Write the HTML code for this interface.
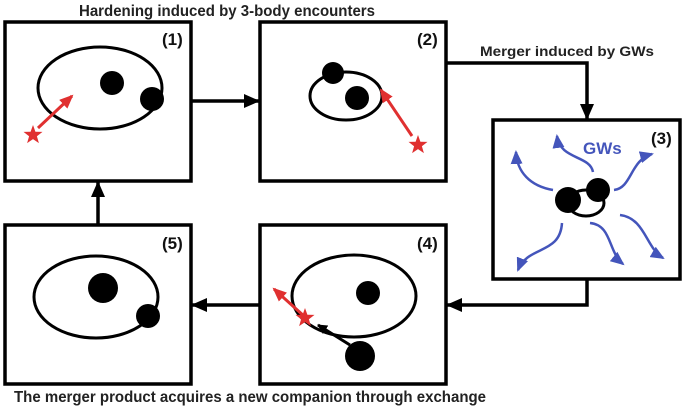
<!DOCTYPE html>
<html><head><style>body{margin:0;background:#fff}svg{display:block}text{font-family:"Liberation Sans",sans-serif;font-weight:bold}</style></head><body>
<svg width="685" height="408" viewBox="0 0 685 408">
<defs>
<marker id="bk" markerWidth="10" markerHeight="10" refX="9" refY="5" orient="auto" markerUnits="userSpaceOnUse"><path d="M0,0 L10,5 L0,10 z" fill="#000"/></marker>
<marker id="bk2" markerWidth="16" markerHeight="14" refX="15" refY="7" orient="auto" markerUnits="userSpaceOnUse"><path d="M0,0 L16,7 L0,14 z" fill="#000"/></marker>
<marker id="rd" markerWidth="14" markerHeight="12" refX="12" refY="6" orient="auto" markerUnits="userSpaceOnUse"><path d="M0,0 L14,6 L0,12 z" fill="#e03030"/></marker>
<marker id="bl" markerWidth="14" markerHeight="12" refX="12" refY="6" orient="auto" markerUnits="userSpaceOnUse"><path d="M0,0 L14,6 L0,12 z" fill="#4455bb"/></marker>
<polygon id="star" points="0,-10 2.4,-3.3 9.5,-3.1 3.9,1.3 5.9,8.1 0,4.1 -5.9,8.1 -3.9,1.3 -9.5,-3.1 -2.4,-3.3" fill="#e03030"/>
</defs>
<text x="227" y="16" font-size="15.5" text-anchor="middle" fill="#222" textLength="296" lengthAdjust="spacingAndGlyphs">Hardening induced by 3-body encounters</text>
<text x="567" y="56" font-size="14" text-anchor="middle" fill="#222" textLength="174" lengthAdjust="spacingAndGlyphs">Merger induced by GWs</text>
<text x="250" y="402" font-size="15.5" text-anchor="middle" fill="#222" textLength="472" lengthAdjust="spacingAndGlyphs">The merger product acquires a new companion through exchange</text>
<g fill="none" stroke="#000" stroke-width="3.5">
<rect x="5" y="22" width="186" height="159"/>
<rect x="260" y="22" width="186" height="159"/>
<rect x="493" y="120" width="187" height="159"/>
<rect x="260" y="225" width="186" height="159"/>
<rect x="5" y="225" width="186" height="159"/>
<line x1="192" y1="101" x2="259" y2="101" marker-end="url(#bk2)"/>
<polyline points="447,63 587,63 587,119" marker-end="url(#bk2)"/>
<polyline points="587,280 587,305 447,305" marker-end="url(#bk2)"/>
<line x1="259" y1="305" x2="192" y2="305" marker-end="url(#bk2)"/>
<line x1="98" y1="225" x2="98" y2="182" marker-end="url(#bk2)"/>
</g>
<g font-size="17" fill="#111">
<text x="162" y="45">(1)</text><text x="417" y="45">(2)</text><text x="651" y="144">(3)</text><text x="417" y="249">(4)</text><text x="162" y="249">(5)</text>
</g>
<g fill="none" stroke="#000" stroke-width="3">
<ellipse cx="100" cy="88" rx="62" ry="41"/>
<ellipse cx="346" cy="96" rx="36" ry="24"/>
<ellipse cx="354" cy="296" rx="62" ry="41"/>
<ellipse cx="96" cy="297" rx="62" ry="41"/>
<ellipse cx="586" cy="203" rx="18" ry="13"/>
</g>
<g fill="#000">
<circle cx="112" cy="83" r="12"/><circle cx="152" cy="99" r="12"/>
<circle cx="333" cy="73" r="11"/><circle cx="357" cy="98" r="12"/>
<circle cx="568" cy="200" r="13"/><circle cx="598" cy="190" r="12"/>
<circle cx="368" cy="293" r="12"/><circle cx="360" cy="356" r="15"/>
<circle cx="103" cy="288" r="15"/><circle cx="148" cy="316" r="12"/>
</g>
<g stroke="#e03030" stroke-width="3" fill="none">
<line x1="38" y1="128" x2="72" y2="96" marker-end="url(#rd)"/>
<line x1="412" y1="136" x2="381" y2="90" marker-end="url(#rd)"/>
<line x1="305" y1="317" x2="274" y2="289" marker-end="url(#rd)"/>
</g>
<line x1="350" y1="345" x2="318" y2="325" stroke="#000" stroke-width="3" marker-end="url(#bk)"/>
<use href="#star" x="33" y="135"/>
<use href="#star" x="418" y="145"/>
<use href="#star" x="305" y="318"/>
<text x="583" y="154" font-size="17" fill="#4455bb">GWs</text>
<g stroke="#4455bb" stroke-width="2.5" fill="none">
<path d="M553,190 C530,186 517,172 516,152" marker-end="url(#bl)"/>
<path d="M593,172 C590,155 560,160 557,136" marker-end="url(#bl)"/>
<path d="M614,190 C632,188 630,160 652,154" marker-end="url(#bl)"/>
<path d="M562,223 C560,255 528,245 518,270" marker-end="url(#bl)"/>
<path d="M590,223 C612,225 608,252 623,264" marker-end="url(#bl)"/>
<path d="M620,215 C645,218 646,248 663,258" marker-end="url(#bl)"/>
</g>
</svg>
</body></html>
